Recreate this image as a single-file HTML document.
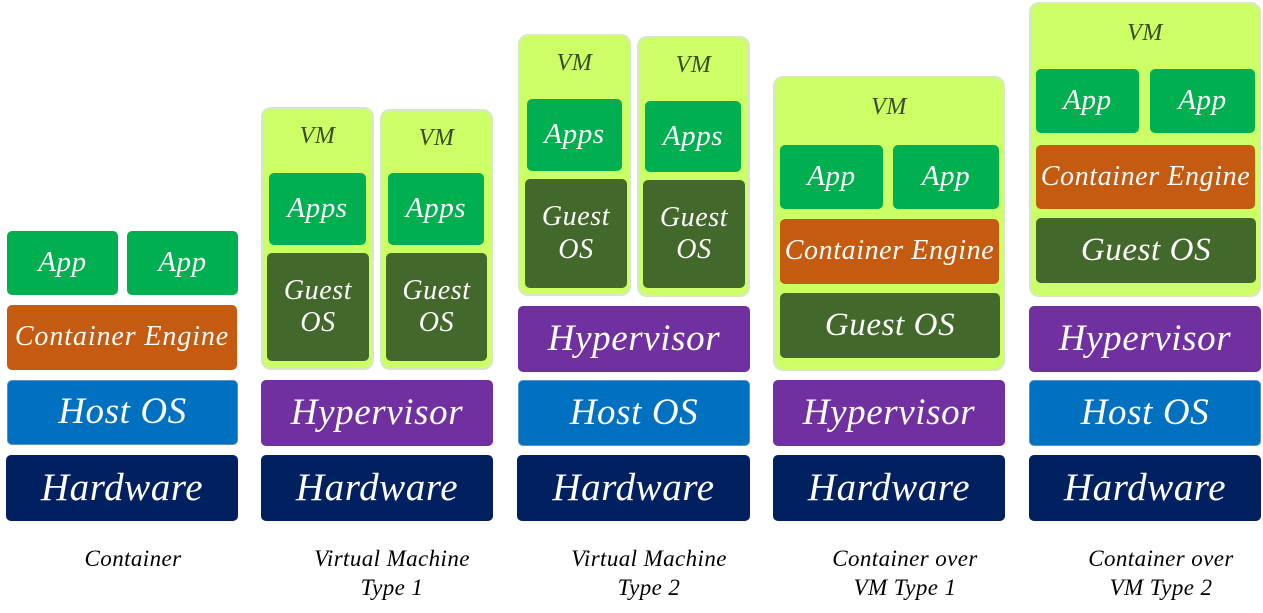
<!DOCTYPE html>
<html><head><style>
body{margin:0;width:1263px;height:613px;background:#fff;position:relative;overflow:hidden;font-family:"Liberation Serif","DejaVu Serif",serif;font-style:italic}
.b{position:absolute;display:flex;align-items:center;justify-content:center;text-align:center;color:#fff;border-radius:5px;box-sizing:border-box;line-height:1.15;letter-spacing:0.6px}
.hw{background:#002060;font-size:39px}
.ho{background:#0070c0;font-size:37px;border:1px solid #5b8fc7}
.hv{background:#7030a0;font-size:37px}
.ce{background:#c55a11;font-size:28px}
.ap{background:#00b050;font-size:29px}
.go{background:#43682b;font-size:28px}
.vm{background:#ccff66;border:2px solid #d6e8c8;border-radius:10px;color:#3a4a2a;font-size:24px;align-items:flex-start}
.cap{position:absolute;font-size:23px;text-align:center;color:#000;line-height:29px;width:220px;letter-spacing:0.4px}
</style></head><body>
<!-- col1 -->
<div class="b ap" style="left:7px;top:231px;width:111px;height:64px">App</div>
<div class="b ap" style="left:127px;top:231px;width:111px;height:64px">App</div>
<div class="b ce" style="left:7px;top:305px;width:230px;height:65px;letter-spacing:0.9px">Container Engine</div>
<div class="b ho" style="left:7px;top:380px;width:231px;height:65px">Host OS</div>
<div class="b hw" style="left:6px;top:455px;width:232px;height:66px">Hardware</div>
<!-- col2 -->
<div class="b vm" style="left:261px;top:107px;width:113px;height:263px;padding-top:14px">VM</div>
<div class="b vm" style="left:380px;top:109px;width:113px;height:261px;padding-top:14px">VM</div>
<div class="b ap" style="left:269px;top:173px;width:97px;height:72px">Apps</div>
<div class="b ap" style="left:388px;top:173px;width:96px;height:72px">Apps</div>
<div class="b go" style="left:267px;top:253px;width:102px;height:108px">Guest<br>OS</div>
<div class="b go" style="left:386px;top:253px;width:101px;height:108px">Guest<br>OS</div>
<div class="b hv" style="left:261px;top:380px;width:232px;height:66px">Hypervisor</div>
<div class="b hw" style="left:261px;top:455px;width:232px;height:66px">Hardware</div>
<!-- col3 -->
<div class="b vm" style="left:518px;top:34px;width:113px;height:262px;padding-top:14px">VM</div>
<div class="b vm" style="left:637px;top:36px;width:113px;height:261px;padding-top:14px">VM</div>
<div class="b ap" style="left:527px;top:99px;width:95px;height:72px">Apps</div>
<div class="b ap" style="left:645px;top:101px;width:96px;height:71px">Apps</div>
<div class="b go" style="left:525px;top:179px;width:102px;height:109px">Guest<br>OS</div>
<div class="b go" style="left:643px;top:180px;width:102px;height:108px">Guest<br>OS</div>
<div class="b hv" style="left:518px;top:306px;width:232px;height:66px">Hypervisor</div>
<div class="b ho" style="left:518px;top:380px;width:232px;height:66px">Host OS</div>
<div class="b hw" style="left:517px;top:455px;width:233px;height:66px">Hardware</div>
<!-- col4 -->
<div class="b vm" style="left:773px;top:76px;width:232px;height:295px;padding-top:16px">VM</div>
<div class="b ap" style="left:780px;top:145px;width:103px;height:64px">App</div>
<div class="b ap" style="left:893px;top:145px;width:106px;height:64px">App</div>
<div class="b ce" style="left:780px;top:219px;width:219px;height:65px">Container Engine</div>
<div class="b go" style="left:780px;top:293px;width:220px;height:65px;font-size:33px">Guest OS</div>
<div class="b hv" style="left:773px;top:380px;width:232px;height:66px">Hypervisor</div>
<div class="b hw" style="left:773px;top:455px;width:232px;height:66px">Hardware</div>
<!-- col5 -->
<div class="b vm" style="left:1029px;top:2px;width:232px;height:295px;padding-top:16px">VM</div>
<div class="b ap" style="left:1036px;top:69px;width:103px;height:64px">App</div>
<div class="b ap" style="left:1150px;top:69px;width:105px;height:64px">App</div>
<div class="b ce" style="left:1036px;top:145px;width:219px;height:64px">Container Engine</div>
<div class="b go" style="left:1036px;top:218px;width:220px;height:65px;font-size:33px">Guest OS</div>
<div class="b hv" style="left:1029px;top:306px;width:232px;height:66px">Hypervisor</div>
<div class="b ho" style="left:1029px;top:380px;width:232px;height:66px">Host OS</div>
<div class="b hw" style="left:1029px;top:455px;width:232px;height:66px">Hardware</div>
<!-- captions -->
<div class="cap" style="left:23px;top:544px">Container</div>
<div class="cap" style="left:282px;top:544px">Virtual Machine<br>Type 1</div>
<div class="cap" style="left:539px;top:544px">Virtual Machine<br>Type 2</div>
<div class="cap" style="left:795px;top:544px">Container over<br>VM Type 1</div>
<div class="cap" style="left:1051px;top:544px">Container over<br>VM Type 2</div>
</body></html>
